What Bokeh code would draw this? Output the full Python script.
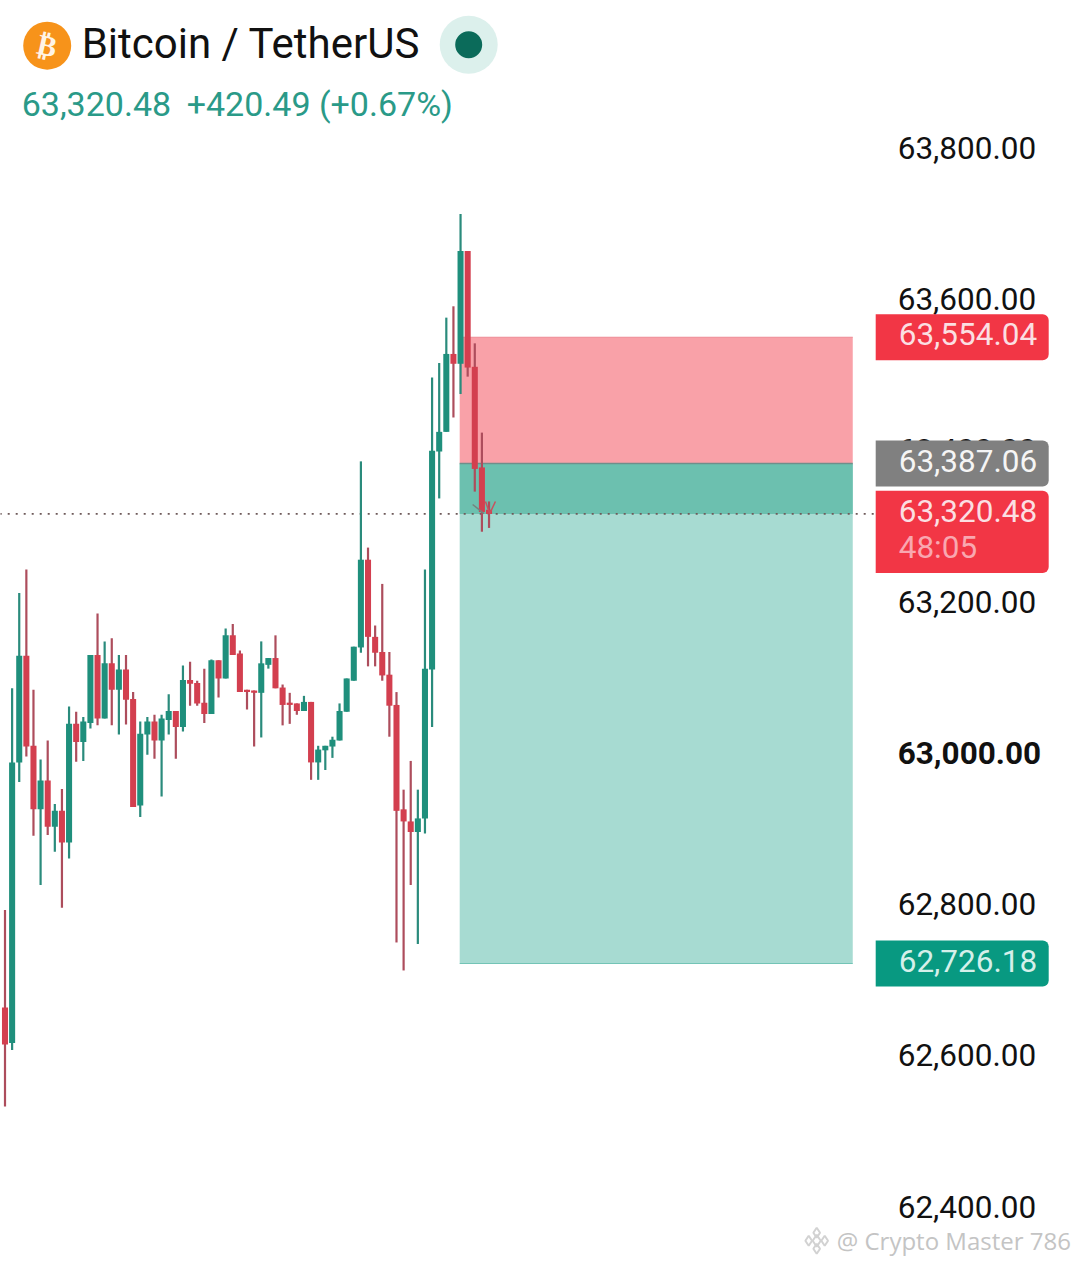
from bokeh.plotting import figure
from bokeh.models import Range1d, LinearAxis, FixedTicker, NumeralTickFormatter, ColumnDataSource
from bokeh.core.properties import value
from bokeh.embed import file_html
from bokeh.resources import INLINE

opens = [62668,62621,62992,63133,63014,62930,62968,62907,62928,62886,
         63043,63019,63044,63134,63050,63123,63088,63115,63076,62935,
         63029,63046,63021,63048,63060,63039,63101,63097,63071,63056,
         63127,63103,63160,63136,63088,63087,63084,63121,63130,63091,
         63071,63070,63060,63072,62992,63008,63013,63021,63059,63100,
         63144,63260,63158,63138,63108,63068,62930,62914,62900,62918,
         63115,63403,63429,63532,63519,63668,63515,63382,63326]
highs = [62797,63090,63216,63247,63088,62996,63021,62937,62957,63066,
         63059,63052,63134,63189,63152,63156,63134,63134,63085,63046,
         63052,63055,63055,63082,63060,63120,63125,63100,63116,63128,
         63127,63169,63175,63140,63088,63087,63152,63130,63160,63095,
         63084,63070,63080,63072,63014,63014,63026,63070,63103,63145,
         63390,63276,63173,63228,63138,63085,62956,62994,62956,63247,
         63501,63520,63580,63595,63717,63668,63546,63428,63337]
lows = [62537,62612,62966,63000,62895,62830,62896,62874,62800,62865,
        62993,62994,63037,63041,63050,63041,63029,63042,62933,62920,
        63002,62997,62947,63029,62997,63033,63067,63067,63044,63056,
        63078,63103,63134,63085,63062,63013,63025,63116,63090,63041,
        63043,63055,63060,62969,62969,62982,62998,63021,63059,63100,
        63137,63119,63119,63100,63026,62754,62717,62830,62752,62898,
        63039,63341,63429,63448,63479,63502,63350,63297,63302]
closes = [62619,62992,63133,63013,62930,62968,62907,62928,62886,63043,
          63019,63046,63134,63050,63123,63088,63115,63075,62933,63030,
          63046,63021,63050,63060,63039,63101,63096,63070,63056,63127,
          63103,63160,63134,63085,63085,63084,63123,63130,63090,63068,
          63068,63060,63072,62992,63009,63014,63022,63060,63103,63145,
          63260,63158,63137,63107,63067,62928,62914,62900,62918,63116,
          63404,63429,63532,63519,63668,63514,63380,63323,63320.48]

tick_values = [62400, 62600, 62800, 63200, 63400, 63600, 63800]
bold_tick_values = [63000]

stop_price = 63554.04
entry_price = 63387.06
last_price = 63320.48
target_price = 62726.18
position_start_bar = 63.88
position_end_bar = 119.1

header_title = "Bitcoin / TetherUS"
header_price = "63,320.48"
header_change = "+420.49 (+0.67%)"
countdown = "48:05"
watermark = "@ Crypto Master 786"

GREEN, RED = "#1f8f7c", "#d33f4f"
WICK_GREEN, WICK_RED = "#2a8b7c", "#ad4d5c"

# layout helpers: reference pixel to chart units
def xd(px):
    return (px - 5.3) / 7.118
def yd(py):
    return 64000.3 - 1.32196 * py

p = figure(width=1080, height=1266, output_backend="svg", toolbar_location=None,
           x_range=Range1d(xd(0.8), xd(1080.8)), y_range=Range1d(yd(1266.8), yd(0.8)),
           x_axis_location=None, y_axis_location=None, min_border=0,
           background_fill_color="white", border_fill_color="white")
p.grid.visible = False
p.outline_line_color = None

# position tool
p.quad(left=[position_start_bar], right=[position_end_bar], top=[stop_price], bottom=[entry_price],
       fill_color="#f9a1a8", line_color=None)
p.quad(left=[position_start_bar], right=[position_end_bar], top=[entry_price], bottom=[target_price],
       fill_color="#a7dbd2", line_color=None)
p.quad(left=[position_start_bar], right=[position_end_bar], top=[entry_price], bottom=[last_price],
       fill_color="#6cc0af", line_color=None)
p.segment(x0=[position_start_bar], x1=[position_end_bar], y0=[stop_price], y1=[stop_price], line_color="#ee8b94", line_width=1.2)
p.segment(x0=[position_start_bar], x1=[position_end_bar], y0=[entry_price], y1=[entry_price], line_color="#6f8f8b", line_width=1.5)
p.segment(x0=[position_start_bar], x1=[position_end_bar], y0=[target_price], y1=[target_price], line_color="#73c4b6", line_width=1.2)

# last price line
p.segment(x0=[xd(0)], x1=[xd(876)], y0=[last_price], y1=[last_price], line_color="#6e5a5a", line_width=1.8, line_dash="2 6")

# candles
idx = list(range(len(opens)))
up = [c >= o for o, c in zip(opens, closes)]
src = ColumnDataSource(dict(
    x=idx, open=opens, high=highs, low=lows, close=closes,
    top=[max(o, c) for o, c in zip(opens, closes)],
    bottom=[min(o, c) for o, c in zip(opens, closes)],
    body=[GREEN if u else RED for u in up],
    wick=[WICK_GREEN if u else WICK_RED for u in up],
))
p.segment(x0="x", x1="x", y0="high", y1="low", line_color="wick", line_width=2.2, source=src)
p.vbar(x="x", width=0.85, top="top", bottom="bottom", fill_color="body", line_color=None, source=src)

# small drawn arrows at the last bars
p.segment(x0=[65.7], x1=[67.3], y0=[63333], y1=[63321], line_color="#77807e", line_width=1.5)
p.segment(x0=[67.5, 68.9], x1=[68.1, 68.1], y0=[63337, 63337], y1=[63321, 63321], line_color="#c9505e", line_width=1.5)

# price axis, drawn inside the frame; labels sit slightly above their tick value
axis_x = xd(898)
p.extra_y_ranges["labels"] = Range1d(yd(1266.8) - 4.6, yd(0.8) - 4.6)
for ticks, style in ((tick_values, "normal"), (bold_tick_values, "bold")):
    ax = LinearAxis(y_range_name="labels", ticker=FixedTicker(ticks=ticks),
                    formatter=NumeralTickFormatter(format="0,0.00"))
    ax.fixed_location = axis_x
    ax.axis_line_color = None
    ax.major_tick_line_color = None
    ax.minor_tick_line_color = None
    ax.major_tick_out = 0
    ax.major_tick_in = 0
    ax.major_label_standoff = 0
    ax.major_label_text_font = "Roboto"
    ax.major_label_text_font_size = "31.5px"
    ax.major_label_text_font_style = style
    ax.major_label_text_color = "#111111"
    p.add_layout(ax, "right")

# price flags
flag_left, flag_right = xd(876), xd(1049)
half = 30.4
p.quad(left=[flag_left]*4, right=[flag_right]*4,
       top=[stop_price + half, entry_price + half, last_price + 30.8, target_price + half],
       bottom=[stop_price - half, entry_price - half, last_price - 78.0, target_price - half],
       fill_color=["#f23645", "#808080", "#f23645", "#089981"], line_color=None,
       border_radius=(0, 6, 6, 0), level="overlay")
p.text(x=[xd(899)]*4, y=[stop_price, entry_price, last_price, target_price],
       text=["63,554.04", "63,387.06", "63,320.48", "62,726.18"],
       text_color=["#fbdfe2", "#f5f5f5", "#fbdfe2", "#d5f0ea"],
       text_font=value("Roboto"), text_font_size="31.5px", text_baseline="middle", text_align="left",
       y_offset=-3, level="overlay")
p.text(x=[xd(899)], y=[last_price], text=[countdown], text_color="#f9a7b0",
       text_font=value("Roboto"), text_font_size="31.5px", text_baseline="middle", text_align="left",
       y_offset=34, level="overlay")

# header
p.scatter(x=[xd(47.5)], y=[yd(46)], size=48, fill_color="#f7931a", line_color=None, level="overlay")
p.text(x=[xd(47.5)], y=[yd(46)], text=["\u20bf"], text_color="#fff4e6", text_font=value("DejaVu Sans"),
       text_font_style="bold", text_font_size="29px", text_align="center", text_baseline="middle",
       angle=-0.22, level="overlay")
p.text(x=[xd(82)], y=[yd(44)], text=[header_title], text_color="#111111", text_font=value("Roboto"),
       text_font_size="42px", text_align="left", text_baseline="middle", level="overlay")
p.scatter(x=[xd(469)], y=[yd(45)], size=58, fill_color="#dcf0ec", line_color=None, level="overlay")
p.scatter(x=[xd(469)], y=[yd(45)], size=27, fill_color="#0b6b5a", line_color=None, level="overlay")
p.text(x=[xd(22), xd(187)], y=[yd(104)]*2, text=[header_price, header_change], text_color="#2a9a88",
       text_font=value("Roboto"), text_font_size="34px", text_align="left", text_baseline="middle", level="overlay")

# watermark
logo_x = [817, 809, 825, 817, 817]
logo_y = [1241, 1241, 1241, 1233, 1249]
p.scatter(x=[xd(v) for v in logo_x], y=[yd(v) for v in logo_y], size=[12, 10, 10, 10, 10], marker="diamond",
          fill_color=None, line_color="#d2d2d2", line_width=2, level="overlay")
p.text(x=[xd(837)], y=[yd(1241)], text=[watermark], text_color="#c4c4c4", text_font=value("Open Sans"),
       text_font_size="24px", text_align="left", text_baseline="middle", level="overlay")

open("out.html", "w").write(file_html(p, INLINE))
